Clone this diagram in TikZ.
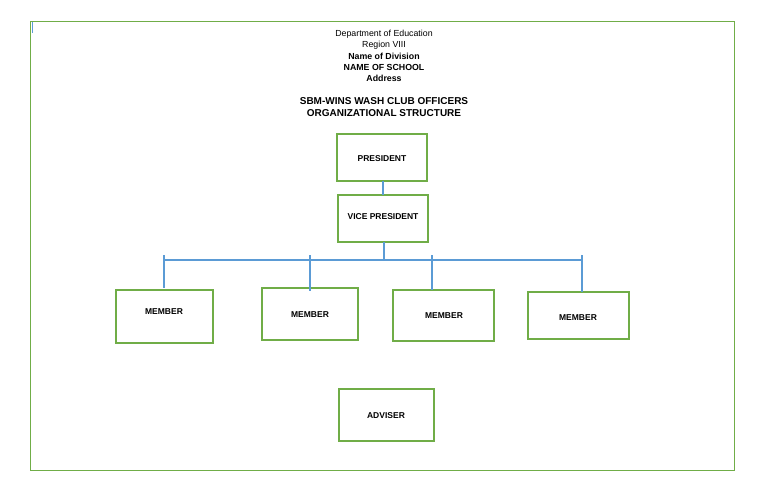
\documentclass[tikz,border=0pt]{standalone}
\usepackage{fontspec}
\setmainfont{Liberation Sans}
\definecolor{gr}{HTML}{70AD47}
\definecolor{bl}{HTML}{5B9BD5}
\begin{document}
\begin{tikzpicture}[x=1pt,y=-1pt,
  box/.style={draw=gr,line width=1.4pt},
  lab/.style={font=\fontsize{8.5}{9}\selectfont\bfseries},
  con/.style={draw=bl,line width=1.5pt},
  hd/.style={font=\fontsize{8.8}{9}\selectfont,inner sep=0pt},
  hdb/.style={font=\fontsize{8.8}{9}\selectfont\bfseries,inner sep=0pt}]
\useasboundingbox (0,0) rectangle (768,503);
\draw[gr,line width=0.6pt] (30,21) rectangle (734,470);
\draw[bl,line width=1pt] (32,22) -- (32,33);
\node[hd] (h1) at (384,34) {Department of Education};
\node[hd] (h2) at (384,45) {Region VIII};
\node[hdb] (h3) at (384,56) {Name of Division};
\node[hdb] (h4) at (384,67) {NAME OF SCHOOL};
\node[hdb] (h5) at (384,78) {Address};
\node[inner sep=0pt,font=\fontsize{10}{12}\selectfont\bfseries,align=center] (t) at (384,107) {SBM-WINS WASH CLUB OFFICERS\\ORGANIZATIONAL STRUCTURE};
\path[box] (337,134) rectangle (427,181); \node[lab] (p) at (382,159) {PRESIDENT};
\path[box] (338,195) rectangle (428,242); \node[lab] (vp) at (383,217) {VICE PRESIDENT};
\path[box] (116,290) rectangle (213,343); \node[lab] (m1) at (164,312) {MEMBER};
\path[box] (262,288) rectangle (358,340); \node[lab] (m2) at (310,315) {MEMBER};
\path[box] (393,290) rectangle (494,341); \node[lab] (m3) at (444,316) {MEMBER};
\path[box] (528,292) rectangle (629,339); \node[lab] (m4) at (578,318) {MEMBER};
\path[box] (339,389) rectangle (434,441); \node[lab] (ad) at (386,416) {ADVISER};
\coordinate (pb) at (383,181); \coordinate (vt) at (383,195);
\coordinate (vb) at (384,242); \coordinate (bj) at (384,259);
\coordinate (l) at (164,260); \coordinate (r) at (582,260);
\draw[con] (pb) -- (vt);
\draw[con] (vb) -- (bj);
\draw[con] (l) -- (r);
\draw[con] (164,255) -- (164,288);
\draw[con] (310,255) -- (310,291);
\draw[con] (432,255) -- (432,290);
\draw[con] (582,255) -- (582,292);
\end{tikzpicture}
\end{document}
